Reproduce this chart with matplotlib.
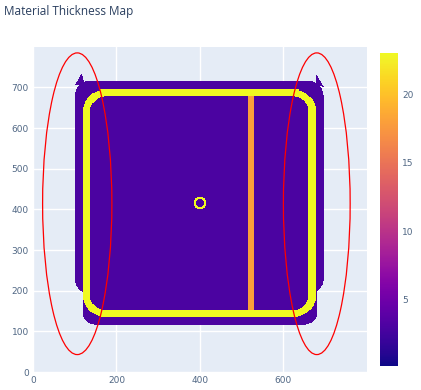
import numpy as np
import matplotlib
matplotlib.use("Agg")
import matplotlib.pyplot as plt
from matplotlib.patches import Ellipse
from matplotlib.path import Path

# thickness values (mm)
t_base = 3.0
t_frame = 23.0
t_rib = 18.0
t_boss = 23.0

# plate outline: two overlapping rounded blocks [x0, x1, y0, y1, radius]
plate_upper = [99, 697, 192, 716, 40]
plate_lower = [119, 681, 116, 260, 30]
spike_left = [(100, 705), (117, 735), (124, 705)]
spike_right = [(676, 705), (678, 732), (697, 700)]

# stiffening frame [x0, x1, y0, y1, radius], width
frame_outer = [120, 678, 135, 696, 55]
frame_width = 17
# vertical rib x range
rib_x = [516, 530]
# boss ring: center x, center y, outer r, inner r
boss = [400, 415, 16, 10]

# highlighted zones: center x, center y, width, height
zones_cx = [106, 680]
zones_cy = [414, 414]
zones_w = [166, 160]
zones_h = [742, 742]

step = 2.5
xe = np.arange(0, 800 + step, step)
xs = xe[:-1] + step / 2
X, Y = np.meshgrid(xs, xs)


def rounded(X, Y, x0, x1, y0, y1, r):
    inside = (X >= x0) & (X <= x1) & (Y >= y0) & (Y <= y1)
    cx = np.clip(X, x0 + r, x1 - r)
    cy = np.clip(Y, y0 + r, y1 - r)
    return inside & ((X - cx) ** 2 + (Y - cy) ** 2 <= r ** 2)


def poly(X, Y, pts):
    p = Path(pts)
    return p.contains_points(np.c_[X.ravel(), Y.ravel()]).reshape(X.shape)


plate = rounded(X, Y, *plate_upper) | rounded(X, Y, *plate_lower)
plate |= poly(X, Y, spike_left) | poly(X, Y, spike_right)

Z = np.full(X.shape, np.nan)
Z[plate] = t_base

fx0, fx1, fy0, fy1, fr = frame_outer
outer = rounded(X, Y, fx0, fx1, fy0, fy1, fr)
inner = rounded(X, Y, fx0 + frame_width, fx1 - frame_width,
                fy0 + frame_width, fy1 - frame_width, fr - frame_width)
rib = (X >= rib_x[0]) & (X <= rib_x[1]) & inner
Z[rib] = t_rib
Z[outer & ~inner] = t_frame
d = np.hypot(X - boss[0], Y - boss[1])
Z[(d <= boss[2]) & (d >= boss[3])] = t_boss

txt = "#2a3f5f"
fig = plt.figure(figsize=(4.21, 3.90), dpi=100)
ax = fig.add_axes([0.0784, 0.046, 0.793, 0.834])
ax.set_facecolor("#E5ECF6")
mesh = ax.pcolormesh(xe, xe, np.ma.masked_invalid(Z), cmap="plasma",
                     vmin=0.15, vmax=23, zorder=2)
for cx, cy, w, h in zip(zones_cx, zones_cy, zones_w, zones_h):
    ax.add_patch(Ellipse((cx, cy), w, h, fill=False, edgecolor="red",
                         lw=0.9, zorder=3))
ax.set_xlim(0, 800)
ax.set_ylim(0, 800)
ax.set_xticks([0, 200, 400, 600])
ax.set_yticks(range(0, 800, 100))
ax.grid(color="white", lw=1, zorder=1)
ax.set_axisbelow(True)
for s in ax.spines.values():
    s.set_visible(False)
ax.tick_params(length=0, labelsize=6.5, labelcolor="#506784", pad=3)

cax = fig.add_axes([0.9026, 0.0615, 0.0428, 0.8026])
cb = fig.colorbar(mesh, cax=cax)
cb.set_ticks([5, 10, 15, 20])
cb.outline.set_visible(False)
cax.tick_params(length=0, labelsize=6.5, labelcolor="#506784", pad=3)

fig.text(0.01, 0.97, "Material Thickness Map", fontsize=8.5, color=txt,
         family=["Open Sans", "DejaVu Sans"], va="center")
fig.savefig("out.png", dpi=100)
